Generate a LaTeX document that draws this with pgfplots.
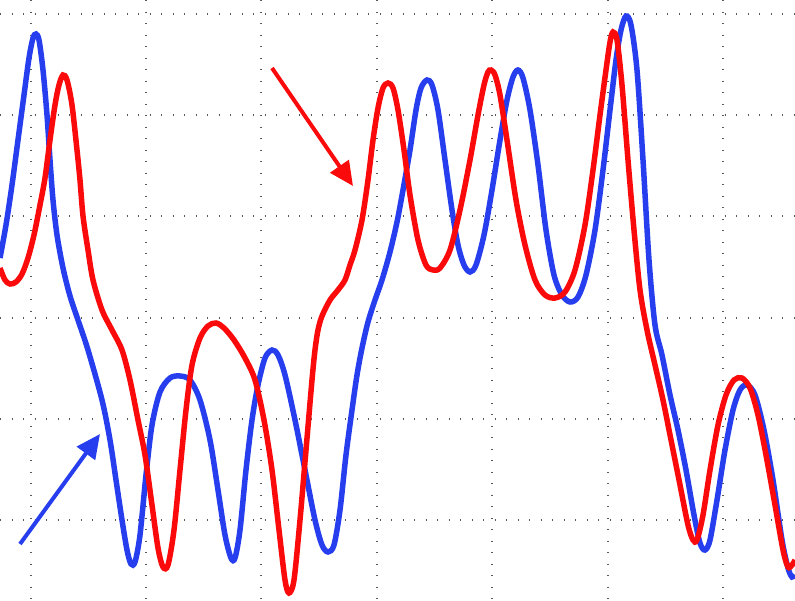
\documentclass[border=0pt]{standalone}
\usepackage{pgfplots}
\pgfplotsset{compat=1.18}
\usetikzlibrary{arrows.meta}
\definecolor{cblue}{RGB}{38,62,238}
\definecolor{cred}{RGB}{250,10,10}
\begin{document}
\begin{tikzpicture}
\useasboundingbox (0,0) rectangle (795pt,600pt);
\begin{axis}[
  at={(0,0)}, anchor=south west,
  width=795pt, height=600pt, scale only axis,
  xmin=0, xmax=795, ymin=0, ymax=600, y dir=reverse,
  xtick={31,146,261,377,492,608,723},
  ytick={14,115,216,318,419,520},
  xticklabels={}, yticklabels={},
  major tick length=0pt,
  tick style={draw=none},
  axis line style={draw=none},
  grid=major,
  grid style={black!65, line width=1.1pt, dash pattern=on 1.1pt off 10.4pt},
  clip=true,
]
\addplot[cblue, line width=5.5pt, smooth, tension=0.5] coordinates {
(0,258) (6,225) (12,185) (18,140) (24,95) (29,58) (33,38) (36,34) (39,40) (43,70) (47,115) (50,160) (53,200) (57,235) (63,268) (70,296) (78,320) (88,350) (102,400) (110,440) (116,480) (122,520) (127,550) (131,564) (135,562) (140,535) (146,475) (152,425) (160,392) (170,378) (180,376) (190,380) (200,400) (210,440) (218,490) (225,535) (231,558) (235,558) (240,530) (246,470) (252,420) (258,385) (265,358) (272,350) (278,355) (285,375) (295,420) (305,470) (315,520) (322,545) (328,552) (334,545) (340,510) (346,455) (352,410) (357,375) (362,348) (368,322) (375,300) (382,280) (390,252) (397,222) (403,190) (410,150) (416,110) (421,88) (427,80) (432,85) (438,110) (445,160) (452,210) (458,245) (464,265) (470,272) (476,265) (484,235) (492,190) (500,140) (507,100) (513,77) (518,70) (523,78) (530,110) (538,165) (546,230) (554,275) (562,295) (570,302) (578,297) (586,275) (595,230) (603,170) (610,110) (616,60) (621,30) (626,16) (631,25) (637,70) (643,160) (649,260) (655,325) (662,355) (670,395) (678,430) (686,470) (694,515) (700,543) (705,550) (710,540) (717,500) (725,450) (733,410) (740,390) (747,385) (755,395) (764,430) (773,480) (782,540) (788,568) (792,577) (795,575)
};
\addplot[cred, line width=5.5pt, smooth, tension=0.5] coordinates {
(0,268) (5,280) (10,284) (16,282) (22,274) (28,258) (34,235) (40,205) (45,178) (50,140) (55,105) (59,85) (63,75) (67,80) (72,105) (77,150) (80,180) (83,216) (88,250) (93,280) (102,310) (112,330) (122,350) (130,380) (138,420) (145,455) (152,505) (158,548) (163,567) (168,565) (174,530) (180,470) (186,410) (192,365) (200,338) (208,326) (216,323) (224,328) (234,340) (245,358) (255,380) (264,420) (272,470) (279,530) (285,580) (289,593) (294,580) (300,520) (306,450) (312,380) (315,350) (318,330) (322,316) (330,300) (338,290) (345,280) (350,265) (355,250) (362,220) (368,180) (373,140) (378,108) (383,88) (388,83) (393,88) (398,110) (404,150) (410,195) (418,240) (426,265) (433,270) (440,268) (450,250) (460,210) (470,160) (478,115) (484,85) (488,72) (491,70) (495,75) (500,95) (507,140) (516,200) (525,245) (535,280) (545,295) (555,298) (565,292) (575,270) (585,225) (593,170) (600,115) (606,70) (610,42) (613,32) (617,40) (622,85) (628,160) (634,230) (640,290) (647,330) (655,365) (663,400) (672,445) (680,485) (688,525) (693,540) (697,540) (703,515) (710,470) (718,425) (726,395) (734,380) (742,378) (750,388) (758,415) (766,455) (775,505) (783,550) (788,567) (792,565) (795,560)
};
\draw[cred, line width=4pt, -{Triangle[length=24pt,width=22pt]}] (axis cs:272,68) -- (axis cs:353,186);
\draw[cblue, line width=4pt, -{Triangle[length=24pt,width=22pt]}] (axis cs:20,544) -- (axis cs:100,434);
\end{axis}
\end{tikzpicture}
\end{document}
